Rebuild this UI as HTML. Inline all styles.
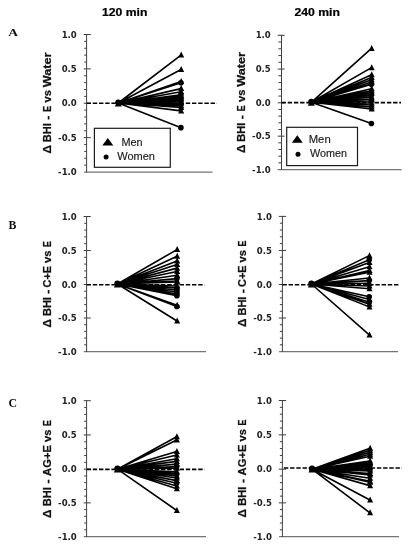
<!DOCTYPE html>
<html lang="en"><head><meta charset="utf-8"><title>Figure</title>
<style>html,body{margin:0;padding:0;background:#fff}body{width:411px;height:550px;overflow:hidden}svg{display:block}</style>
</head><body>
<svg width="411" height="550" viewBox="0 0 411 550">
<rect width="411" height="550" fill="#fff"/>
<g font-family="'Liberation Sans',sans-serif" font-weight="700" font-size="10.4" fill="#000" stroke="#000" stroke-width="0.2">
<text x="102" y="15.6" textLength="45.4" lengthAdjust="spacingAndGlyphs">120 min</text>
<text x="294.5" y="15.6" textLength="45.4" lengthAdjust="spacingAndGlyphs">240 min</text>
</g>
<g font-family="'Liberation Serif',serif" font-weight="700" font-size="11" fill="#111">
<text x="8.3" y="35.7" textLength="9.8" lengthAdjust="spacingAndGlyphs">A</text><text x="8.5" y="228.9" font-size="11.8">B</text><text x="8.4" y="407.4" font-size="11.8">C</text>
</g>
<g><path d="M84 172H212.5" stroke="#757575" stroke-width="1.25" fill="none"/><path d="M86.6 34V172.5M83.7 34.5H90.8M84.2 41.38H86.6M84.2 48.25H86.6M84.2 55.12H86.6M84.2 62H86.6M83.7 68.88H90.8M84.2 75.75H86.6M84.2 82.62H86.6M84.2 89.5H86.6M84.2 96.38H86.6M83.7 103.25H90.8M84.2 110.12H86.6M84.2 117H86.6M84.2 123.88H86.6M84.2 130.75H86.6M83.7 137.62H90.8M84.2 144.5H86.6M84.2 151.38H86.6M84.2 158.25H86.6M84.2 165.12H86.6" stroke="#404040" stroke-width="1" fill="none"/><g font-family="'DejaVu Sans','Liberation Sans',sans-serif" font-weight="700" font-size="8.2" fill="#222"><text x="61.7" y="37.65" textLength="15.1" lengthAdjust="spacingAndGlyphs">1.0</text><text x="61.7" y="72.03" textLength="15.1" lengthAdjust="spacingAndGlyphs">0.5</text><text x="61.7" y="106.4" textLength="15.1" lengthAdjust="spacingAndGlyphs">0.0</text><text x="58.1" y="140.78" textLength="18.7" lengthAdjust="spacingAndGlyphs">-0.5</text><text x="58.1" y="175.15" textLength="18.7" lengthAdjust="spacingAndGlyphs">-1.0</text></g><g transform="translate(50.5 153) rotate(-90)" font-family="'Liberation Sans',sans-serif" font-weight="700" font-size="11.2" fill="#111" stroke="#111" stroke-width="0.25"><text x="-0.45" y="0" textLength="8.4" lengthAdjust="spacingAndGlyphs">Δ</text><text x="10.85" y="0" textLength="19" lengthAdjust="spacingAndGlyphs">BHI</text><text x="33.15" y="0" textLength="4.1" lengthAdjust="spacingAndGlyphs">-</text><text x="41.15" y="0" textLength="5.9" lengthAdjust="spacingAndGlyphs">E</text><text x="50.55" y="0" textLength="12.4" lengthAdjust="spacingAndGlyphs">vs</text><text x="65.75" y="0" textLength="34.7" lengthAdjust="spacingAndGlyphs">Water</text></g><path d="M86.6 103.25H217" stroke="#000" stroke-width="1.6" stroke-dasharray="4.4 1.8" fill="none"/><path d="M118.3 103L181 55.05M118.3 103L181 69.44M118.3 103L181 81.42M118.3 103L181 82.79M118.3 103L181 88.61M118.3 103L181 91.7M118.3 103L181 94.78M118.3 103L181 96.15M118.3 103L181 97.52M118.3 103L181 98.89M118.3 103L181 100.26M118.3 103L181 101.63M118.3 103L181 103M118.3 103L181 104.37M118.3 103L181 105.74M118.3 103L181 107.45M118.3 103L181 110.88M118.3 103L181 127.66" stroke="#000" stroke-width="1.6" fill="none"/><g fill="#000"><path d="M118.3 99.4L121.8 106.4H114.8Z"/><circle cx="118.3" cy="102.5" r="3.1"/><path d="M181.2 51.55L184.2 57.55H178.2Z"/><path d="M181.2 65.94L184.2 71.94H178.2Z"/><path d="M181.2 77.92L184.2 83.92H178.2Z"/><circle cx="180.9" cy="82.79" r="2.8"/><path d="M181.2 85.11L184.2 91.11H178.2Z"/><path d="M181.2 88.2L184.2 94.2H178.2Z"/><circle cx="180.9" cy="94.78" r="2.8"/><path d="M181.2 92.65L184.2 98.65H178.2Z"/><circle cx="180.9" cy="97.52" r="2.8"/><path d="M181.2 95.39L184.2 101.39H178.2Z"/><circle cx="180.9" cy="100.26" r="2.8"/><path d="M181.2 98.13L184.2 104.13H178.2Z"/><path d="M181.2 99.5L184.2 105.5H178.2Z"/><circle cx="180.9" cy="104.37" r="2.8"/><path d="M181.2 102.24L184.2 108.24H178.2Z"/><path d="M181.2 103.95L184.2 109.95H178.2Z"/><path d="M181.2 107.38L184.2 113.38H178.2Z"/><circle cx="180.9" cy="127.66" r="2.8"/></g><rect x="94.4" y="128.3" width="75.9" height="39" fill="#fff" stroke="#1c1c1c" stroke-width="1.2"/><g fill="#000"><path d="M107.8 137.9L113.3 145.4H102.3Z"/><circle cx="106.1" cy="157.1" r="2.5"/></g><g font-family="'Liberation Sans',sans-serif" font-size="10.8" fill="#1a1a1a" stroke="#1a1a1a" stroke-width="0.15"><text x="121.4" y="145.5" textLength="21.2" lengthAdjust="spacingAndGlyphs">Men</text><text x="117.3" y="159.9" textLength="37.7" lengthAdjust="spacingAndGlyphs">Women</text></g></g>
<g><path d="M277.7 169.5H401.6" stroke="#757575" stroke-width="1.25" fill="none"/><path d="M281.5 34.8V170M277.7 35.3H284.6M278.4 42.05H281.5M278.4 48.8H281.5M278.4 55.55H281.5M278.4 62.3H281.5M277.7 69.05H284.6M278.4 75.8H281.5M278.4 82.55H281.5M278.4 89.3H281.5M278.4 96.05H281.5M277.7 102.8H284.6M278.4 109.47H281.5M278.4 116.14H281.5M278.4 122.81H281.5M278.4 129.48H281.5M277.7 136.15H284.6M278.4 142.82H281.5M278.4 149.49H281.5M278.4 156.16H281.5M278.4 162.83H281.5" stroke="#404040" stroke-width="1" fill="none"/><g font-family="'DejaVu Sans','Liberation Sans',sans-serif" font-weight="700" font-size="8.2" fill="#222"><text x="255.7" y="38.45" textLength="15.1" lengthAdjust="spacingAndGlyphs">1.0</text><text x="255.7" y="72.2" textLength="15.1" lengthAdjust="spacingAndGlyphs">0.5</text><text x="255.7" y="105.95" textLength="15.1" lengthAdjust="spacingAndGlyphs">0.0</text><text x="252.1" y="139.3" textLength="18.7" lengthAdjust="spacingAndGlyphs">-0.5</text><text x="252.1" y="172.65" textLength="18.7" lengthAdjust="spacingAndGlyphs">-1.0</text></g><g transform="translate(244.5 152.5) rotate(-90)" font-family="'Liberation Sans',sans-serif" font-weight="700" font-size="11.2" fill="#111" stroke="#111" stroke-width="0.25"><text x="-0.45" y="0" textLength="8.4" lengthAdjust="spacingAndGlyphs">Δ</text><text x="10.85" y="0" textLength="19" lengthAdjust="spacingAndGlyphs">BHI</text><text x="33.15" y="0" textLength="4.1" lengthAdjust="spacingAndGlyphs">-</text><text x="41.15" y="0" textLength="5.9" lengthAdjust="spacingAndGlyphs">E</text><text x="50.55" y="0" textLength="12.4" lengthAdjust="spacingAndGlyphs">vs</text><text x="65.75" y="0" textLength="34.7" lengthAdjust="spacingAndGlyphs">Water</text></g><path d="M281.5 102.6H401" stroke="#000" stroke-width="1.6" stroke-dasharray="4.4 1.8" fill="none"/><path d="M311.3 102.3L371.5 48.46M311.3 102.3L371.5 67.64M311.3 102.3L371.5 74.71M311.3 102.3L371.5 77.4M311.3 102.3L371.5 79.75M311.3 102.3L371.5 82.11M311.3 102.3L371.5 84.13M311.3 102.3L371.5 88.84M311.3 102.3L371.5 90.86M311.3 102.3L371.5 92.88M311.3 102.3L371.5 94.9M311.3 102.3L371.5 96.92M311.3 102.3L371.5 98.94M311.3 102.3L371.5 100.95M311.3 102.3L371.5 102.97M311.3 102.3L371.5 105M311.3 102.3L371.5 107.02M311.3 102.3L371.5 109.04M311.3 102.3L371.5 123.53" stroke="#000" stroke-width="1.6" fill="none"/><g fill="#000"><path d="M311.3 98.7L314.8 105.7H307.8Z"/><circle cx="311.3" cy="101.8" r="3.1"/><path d="M371.7 44.96L374.7 50.96H368.7Z"/><path d="M371.7 64.14L374.7 70.14H368.7Z"/><path d="M371.7 71.21L374.7 77.21H368.7Z"/><path d="M371.7 73.9L374.7 79.9H368.7Z"/><path d="M371.7 76.25L374.7 82.25H368.7Z"/><path d="M371.7 78.61L374.7 84.61H368.7Z"/><circle cx="371.4" cy="84.13" r="2.8"/><path d="M371.7 85.34L374.7 91.34H368.7Z"/><path d="M371.7 87.36L374.7 93.36H368.7Z"/><path d="M371.7 89.38L374.7 95.38H368.7Z"/><circle cx="371.4" cy="94.9" r="2.8"/><path d="M371.7 93.42L374.7 99.42H368.7Z"/><path d="M371.7 95.44L374.7 101.44H368.7Z"/><circle cx="371.4" cy="100.95" r="2.8"/><path d="M371.7 99.47L374.7 105.47H368.7Z"/><path d="M371.7 101.5L374.7 107.5H368.7Z"/><path d="M371.7 103.52L374.7 109.52H368.7Z"/><path d="M371.7 105.54L374.7 111.54H368.7Z"/><circle cx="371.4" cy="123.53" r="2.8"/></g><rect x="286.7" y="127.3" width="70.8" height="38.3" fill="#fff" stroke="#1c1c1c" stroke-width="1.2"/><g fill="#000"><path d="M297.3 135.3L302.8 142.8H291.8Z"/><circle cx="298" cy="154.2" r="2.5"/></g><g font-family="'Liberation Sans',sans-serif" font-size="10.8" fill="#1a1a1a" stroke="#1a1a1a" stroke-width="0.15"><text x="308.7" y="142.6" textLength="22" lengthAdjust="spacingAndGlyphs">Men</text><text x="310.1" y="157.1" textLength="37" lengthAdjust="spacingAndGlyphs">Women</text></g></g>
<g><path d="M83.8 351.5H206" stroke="#757575" stroke-width="1.25" fill="none"/><path d="M86.6 216V352M83.7 216.5H90.8M84.2 223.3H86.6M84.2 230.1H86.6M84.2 236.9H86.6M84.2 243.7H86.6M83.7 250.5H90.8M84.2 257.3H86.6M84.2 264.1H86.6M84.2 270.9H86.6M84.2 277.7H86.6M83.7 284.5H90.8M84.2 291.2H86.6M84.2 297.9H86.6M84.2 304.6H86.6M84.2 311.3H86.6M83.7 318H90.8M84.2 324.7H86.6M84.2 331.4H86.6M84.2 338.1H86.6M84.2 344.8H86.6" stroke="#404040" stroke-width="1" fill="none"/><g font-family="'DejaVu Sans','Liberation Sans',sans-serif" font-weight="700" font-size="8.2" fill="#222"><text x="61.7" y="219.65" textLength="15.1" lengthAdjust="spacingAndGlyphs">1.0</text><text x="61.7" y="253.65" textLength="15.1" lengthAdjust="spacingAndGlyphs">0.5</text><text x="61.7" y="287.65" textLength="15.1" lengthAdjust="spacingAndGlyphs">0.0</text><text x="58.1" y="321.15" textLength="18.7" lengthAdjust="spacingAndGlyphs">-0.5</text><text x="58.1" y="354.65" textLength="18.7" lengthAdjust="spacingAndGlyphs">-1.0</text></g><g transform="translate(50.5 327) rotate(-90)" font-family="'Liberation Sans',sans-serif" font-weight="700" font-size="11.2" fill="#111" stroke="#111" stroke-width="0.25"><text x="-0.45" y="0" textLength="8.4" lengthAdjust="spacingAndGlyphs">Δ</text><text x="10.95" y="0" textLength="19" lengthAdjust="spacingAndGlyphs">BHI</text><text x="33.15" y="0" textLength="4.2" lengthAdjust="spacingAndGlyphs">-</text><text x="39.55" y="0" textLength="21.4" lengthAdjust="spacingAndGlyphs">C+E</text><text x="64.05" y="0" textLength="12.4" lengthAdjust="spacingAndGlyphs">vs</text><text x="80.05" y="0" textLength="5.9" lengthAdjust="spacingAndGlyphs">E</text></g><path d="M86.6 284.8H204.6" stroke="#000" stroke-width="1.6" stroke-dasharray="4.4 1.8" fill="none"/><path d="M117.4 284L177 249.57M117.4 284L177 256.32M117.4 284L177 261.05M117.4 284L177 264.43M117.4 284L177 268.14M117.4 284L177 271.51M117.4 284L177 275.23M117.4 284L177 278.6M117.4 284L177 280.96M117.4 284L177 281.98M117.4 284L177 286.02M117.4 284L177 288.04M117.4 284L177 290.06M117.4 284L177 292.08M117.4 284L177 294.1M117.4 284L177 295.78M117.4 284L177 305.2M117.4 284L177 306.55M117.4 284L177 321.01" stroke="#000" stroke-width="1.6" fill="none"/><g fill="#000"><path d="M117.4 280.4L120.9 287.4H113.9Z"/><circle cx="117.4" cy="283.5" r="3.1"/><path d="M177.2 246.07L180.2 252.07H174.2Z"/><path d="M177.2 252.82L180.2 258.82H174.2Z"/><path d="M177.2 257.55L180.2 263.55H174.2Z"/><path d="M177.2 260.93L180.2 266.93H174.2Z"/><path d="M177.2 264.64L180.2 270.64H174.2Z"/><path d="M177.2 268.01L180.2 274.01H174.2Z"/><path d="M177.2 271.73L180.2 277.73H174.2Z"/><circle cx="176.9" cy="278.6" r="2.8"/><path d="M177.2 277.46L180.2 283.46H174.2Z"/><path d="M177.2 278.48L180.2 284.48H174.2Z"/><path d="M177.2 282.52L180.2 288.52H174.2Z"/><circle cx="176.9" cy="288.04" r="2.8"/><circle cx="176.9" cy="290.06" r="2.8"/><circle cx="176.9" cy="292.08" r="2.8"/><circle cx="176.9" cy="294.1" r="2.8"/><circle cx="176.9" cy="295.78" r="2.8"/><path d="M177.2 301.7L180.2 307.7H174.2Z"/><circle cx="176.9" cy="306.55" r="2.8"/><path d="M177.2 317.51L180.2 323.51H174.2Z"/></g></g>
<g><path d="M279.1 351.5H398.1" stroke="#757575" stroke-width="1.25" fill="none"/><path d="M282.4 215.9V352M278.8 216.4H286.1M279.9 223.21H282.4M279.9 230.02H282.4M279.9 236.83H282.4M279.9 243.64H282.4M278.8 250.45H286.1M279.9 257.26H282.4M279.9 264.07H282.4M279.9 270.88H282.4M279.9 277.69H282.4M278.8 284.5H286.1M279.9 291.2H282.4M279.9 297.9H282.4M279.9 304.6H282.4M279.9 311.3H282.4M278.8 318H286.1M279.9 324.7H282.4M279.9 331.4H282.4M279.9 338.1H282.4M279.9 344.8H282.4" stroke="#404040" stroke-width="1" fill="none"/><g font-family="'DejaVu Sans','Liberation Sans',sans-serif" font-weight="700" font-size="8.2" fill="#222"><text x="256.8" y="219.55" textLength="15.1" lengthAdjust="spacingAndGlyphs">1.0</text><text x="256.8" y="253.6" textLength="15.1" lengthAdjust="spacingAndGlyphs">0.5</text><text x="256.8" y="287.65" textLength="15.1" lengthAdjust="spacingAndGlyphs">0.0</text><text x="253.2" y="321.15" textLength="18.7" lengthAdjust="spacingAndGlyphs">-0.5</text><text x="253.2" y="354.65" textLength="18.7" lengthAdjust="spacingAndGlyphs">-1.0</text></g><g transform="translate(246.2 326.5) rotate(-90)" font-family="'Liberation Sans',sans-serif" font-weight="700" font-size="11.2" fill="#111" stroke="#111" stroke-width="0.25"><text x="-0.45" y="0" textLength="8.4" lengthAdjust="spacingAndGlyphs">Δ</text><text x="10.95" y="0" textLength="19" lengthAdjust="spacingAndGlyphs">BHI</text><text x="33.15" y="0" textLength="4.2" lengthAdjust="spacingAndGlyphs">-</text><text x="39.55" y="0" textLength="21.4" lengthAdjust="spacingAndGlyphs">C+E</text><text x="64.05" y="0" textLength="12.4" lengthAdjust="spacingAndGlyphs">vs</text><text x="80.05" y="0" textLength="5.9" lengthAdjust="spacingAndGlyphs">E</text></g><path d="M282.4 284.8H400" stroke="#000" stroke-width="1.6" stroke-dasharray="4.4 1.8" fill="none"/><path d="M311.4 284L369.3 255.65M311.4 284L369.3 259.7M311.4 284L369.3 262.4M311.4 284L369.3 266.79M311.4 284L369.3 270.5M311.4 284L369.3 272.19M311.4 284L369.3 277.93M311.4 284L369.3 280.62M311.4 284L369.3 283.32M311.4 284L369.3 286.02M311.4 284L369.3 288.71M311.4 284L369.3 296.79M311.4 284L369.3 299.48M311.4 284L369.3 302.17M311.4 284L369.3 304.19M311.4 284L369.3 306.88M311.4 284L369.3 334.95" stroke="#000" stroke-width="1.6" fill="none"/><g fill="#000"><path d="M311.4 280.4L314.9 287.4H307.9Z"/><circle cx="311.4" cy="283.5" r="3.1"/><path d="M369.5 252.15L372.5 258.15H366.5Z"/><circle cx="369.2" cy="259.7" r="2.8"/><path d="M369.5 258.9L372.5 264.9H366.5Z"/><path d="M369.5 263.29L372.5 269.29H366.5Z"/><path d="M369.5 267L372.5 273H366.5Z"/><path d="M369.5 268.69L372.5 274.69H366.5Z"/><path d="M369.5 274.43L372.5 280.43H366.5Z"/><circle cx="369.2" cy="280.62" r="2.8"/><path d="M369.5 279.82L372.5 285.82H366.5Z"/><path d="M369.5 282.52L372.5 288.52H366.5Z"/><path d="M369.5 285.21L372.5 291.21H366.5Z"/><circle cx="369.2" cy="296.79" r="2.8"/><path d="M369.5 295.98L372.5 301.98H366.5Z"/><circle cx="369.2" cy="302.17" r="2.8"/><path d="M369.5 300.69L372.5 306.69H366.5Z"/><path d="M369.5 303.38L372.5 309.38H366.5Z"/><path d="M369.5 331.45L372.5 337.45H366.5Z"/></g></g>
<g><path d="M83.8 536.5H206" stroke="#757575" stroke-width="1.25" fill="none"/><path d="M86.6 400.2V537M83.7 400.7H90.8M84.2 407.55H86.6M84.2 414.4H86.6M84.2 421.25H86.6M84.2 428.1H86.6M83.7 434.95H90.8M84.2 441.8H86.6M84.2 448.65H86.6M84.2 455.5H86.6M84.2 462.35H86.6M83.7 469.2H90.8M84.2 475.93H86.6M84.2 482.66H86.6M84.2 489.39H86.6M84.2 496.12H86.6M83.7 502.85H90.8M84.2 509.58H86.6M84.2 516.31H86.6M84.2 523.04H86.6M84.2 529.77H86.6" stroke="#404040" stroke-width="1" fill="none"/><g font-family="'DejaVu Sans','Liberation Sans',sans-serif" font-weight="700" font-size="8.2" fill="#222"><text x="61.7" y="403.85" textLength="15.1" lengthAdjust="spacingAndGlyphs">1.0</text><text x="61.7" y="438.1" textLength="15.1" lengthAdjust="spacingAndGlyphs">0.5</text><text x="61.7" y="472.35" textLength="15.1" lengthAdjust="spacingAndGlyphs">0.0</text><text x="58.1" y="506" textLength="18.7" lengthAdjust="spacingAndGlyphs">-0.5</text><text x="58.1" y="539.65" textLength="18.7" lengthAdjust="spacingAndGlyphs">-1.0</text></g><g transform="translate(50.5 517.5) rotate(-90)" font-family="'Liberation Sans',sans-serif" font-weight="700" font-size="11.2" fill="#111" stroke="#111" stroke-width="0.25"><text x="-0.45" y="0" textLength="8.4" lengthAdjust="spacingAndGlyphs">Δ</text><text x="11.35" y="0" textLength="19" lengthAdjust="spacingAndGlyphs">BHI</text><text x="34.05" y="0" textLength="4.1" lengthAdjust="spacingAndGlyphs">-</text><text x="41.55" y="0" textLength="30.9" lengthAdjust="spacingAndGlyphs">AG+E</text><text x="75.55" y="0" textLength="12.4" lengthAdjust="spacingAndGlyphs">vs</text><text x="91.55" y="0" textLength="5.9" lengthAdjust="spacingAndGlyphs">E</text></g><path d="M86.6 469.4H204.6" stroke="#000" stroke-width="1.6" stroke-dasharray="4.4 1.8" fill="none"/><path d="M117.4 469.2L176.7 436.81M117.4 469.2L176.7 440M117.4 469.2L176.7 451.41M117.4 469.2L176.7 454.94M117.4 469.2L176.7 458.68M117.4 469.2L176.7 461.39M117.4 469.2L176.7 464.11M117.4 469.2L176.7 466.48M117.4 469.2L176.7 468.18M117.4 469.2L176.7 471.88M117.4 469.2L176.7 473.9M117.4 469.2L176.7 475.91M117.4 469.2L176.7 477.92M117.4 469.2L176.7 480.61M117.4 469.2L176.7 483.29M117.4 469.2L176.7 485.97M117.4 469.2L176.7 488.66M117.4 469.2L176.7 510.47" stroke="#000" stroke-width="1.6" fill="none"/><g fill="#000"><path d="M117.4 465.6L120.9 472.6H113.9Z"/><circle cx="117.4" cy="468.7" r="3.1"/><path d="M176.9 433.31L179.9 439.31H173.9Z"/><path d="M176.9 436.5L179.9 442.5H173.9Z"/><path d="M176.9 447.91L179.9 453.91H173.9Z"/><path d="M176.9 451.44L179.9 457.44H173.9Z"/><path d="M176.9 455.18L179.9 461.18H173.9Z"/><path d="M176.9 457.89L179.9 463.89H173.9Z"/><path d="M176.9 460.61L179.9 466.61H173.9Z"/><circle cx="176.6" cy="466.48" r="2.8"/><path d="M176.9 464.68L179.9 470.68H173.9Z"/><path d="M176.9 468.38L179.9 474.38H173.9Z"/><circle cx="176.6" cy="473.9" r="2.8"/><path d="M176.9 472.41L179.9 478.41H173.9Z"/><path d="M176.9 474.42L179.9 480.42H173.9Z"/><path d="M176.9 477.11L179.9 483.11H173.9Z"/><circle cx="176.6" cy="483.29" r="2.8"/><path d="M176.9 482.47L179.9 488.47H173.9Z"/><path d="M176.9 485.16L179.9 491.16H173.9Z"/><path d="M176.9 506.97L179.9 512.97H173.9Z"/></g></g>
<g><path d="M279.1 536.5H399" stroke="#757575" stroke-width="1.25" fill="none"/><path d="M282.4 400V537M278.8 400.5H286.1M279.9 407.37H282.4M279.9 414.24H282.4M279.9 421.11H282.4M279.9 427.98H282.4M278.8 434.85H286.1M279.9 441.72H282.4M279.9 448.59H282.4M279.9 455.46H282.4M279.9 462.33H282.4M278.8 469.2H286.1M279.9 475.93H282.4M279.9 482.66H282.4M279.9 489.39H282.4M279.9 496.12H282.4M278.8 502.85H286.1M279.9 509.58H282.4M279.9 516.31H282.4M279.9 523.04H282.4M279.9 529.77H282.4" stroke="#404040" stroke-width="1" fill="none"/><g font-family="'DejaVu Sans','Liberation Sans',sans-serif" font-weight="700" font-size="8.2" fill="#222"><text x="256.8" y="403.65" textLength="15.1" lengthAdjust="spacingAndGlyphs">1.0</text><text x="256.8" y="438" textLength="15.1" lengthAdjust="spacingAndGlyphs">0.5</text><text x="256.8" y="472.35" textLength="15.1" lengthAdjust="spacingAndGlyphs">0.0</text><text x="253.2" y="506" textLength="18.7" lengthAdjust="spacingAndGlyphs">-0.5</text><text x="253.2" y="539.65" textLength="18.7" lengthAdjust="spacingAndGlyphs">-1.0</text></g><g transform="translate(246.2 517) rotate(-90)" font-family="'Liberation Sans',sans-serif" font-weight="700" font-size="11.2" fill="#111" stroke="#111" stroke-width="0.25"><text x="-0.45" y="0" textLength="8.4" lengthAdjust="spacingAndGlyphs">Δ</text><text x="11.35" y="0" textLength="19" lengthAdjust="spacingAndGlyphs">BHI</text><text x="34.05" y="0" textLength="4.1" lengthAdjust="spacingAndGlyphs">-</text><text x="41.55" y="0" textLength="30.9" lengthAdjust="spacingAndGlyphs">AG+E</text><text x="75.55" y="0" textLength="12.4" lengthAdjust="spacingAndGlyphs">vs</text><text x="91.55" y="0" textLength="5.9" lengthAdjust="spacingAndGlyphs">E</text></g><path d="M283.9 468H402" stroke="#000" stroke-width="1.6" stroke-dasharray="4.4 1.8" fill="none"/><path d="M312 469.2L369.9 448.15M312 469.2L369.9 450.19M312 469.2L369.9 452.23M312 469.2L369.9 454.26M312 469.2L369.9 456.3M312 469.2L369.9 461.05M312 469.2L369.9 462.41M312 469.2L369.9 463.77M312 469.2L369.9 465.13M312 469.2L369.9 466.48M312 469.2L369.9 467.84M312 469.2L369.9 469.2M312 469.2L369.9 470.88M312 469.2L369.9 473.56M312 469.2L369.9 474.9M312 469.2L369.9 478.26M312 469.2L369.9 481.28M312 469.2L369.9 482.28M312 469.2L369.9 485.64M312 469.2L369.9 500.07M312 469.2L369.9 512.81" stroke="#000" stroke-width="1.6" fill="none"/><g fill="#000"><path d="M312 465.6L315.5 472.6H308.5Z"/><circle cx="312" cy="468.7" r="3.1"/><path d="M370.1 444.65L373.1 450.65H367.1Z"/><path d="M370.1 446.69L373.1 452.69H367.1Z"/><path d="M370.1 448.73L373.1 454.73H367.1Z"/><path d="M370.1 450.76L373.1 456.76H367.1Z"/><path d="M370.1 452.8L373.1 458.8H367.1Z"/><path d="M370.1 457.55L373.1 463.55H367.1Z"/><path d="M370.1 458.91L373.1 464.91H367.1Z"/><path d="M370.1 460.27L373.1 466.27H367.1Z"/><circle cx="369.8" cy="465.13" r="2.8"/><path d="M370.1 462.98L373.1 468.98H367.1Z"/><path d="M370.1 464.34L373.1 470.34H367.1Z"/><path d="M370.1 465.7L373.1 471.7H367.1Z"/><path d="M370.1 467.38L373.1 473.38H367.1Z"/><path d="M370.1 470.06L373.1 476.06H367.1Z"/><path d="M370.1 471.4L373.1 477.4H367.1Z"/><path d="M370.1 474.76L373.1 480.76H367.1Z"/><path d="M370.1 477.78L373.1 483.78H367.1Z"/><path d="M370.1 478.78L373.1 484.78H367.1Z"/><path d="M370.1 482.14L373.1 488.14H367.1Z"/><path d="M370.1 496.57L373.1 502.57H367.1Z"/><path d="M370.1 509.31L373.1 515.31H367.1Z"/></g></g>
</svg>
</body></html>
